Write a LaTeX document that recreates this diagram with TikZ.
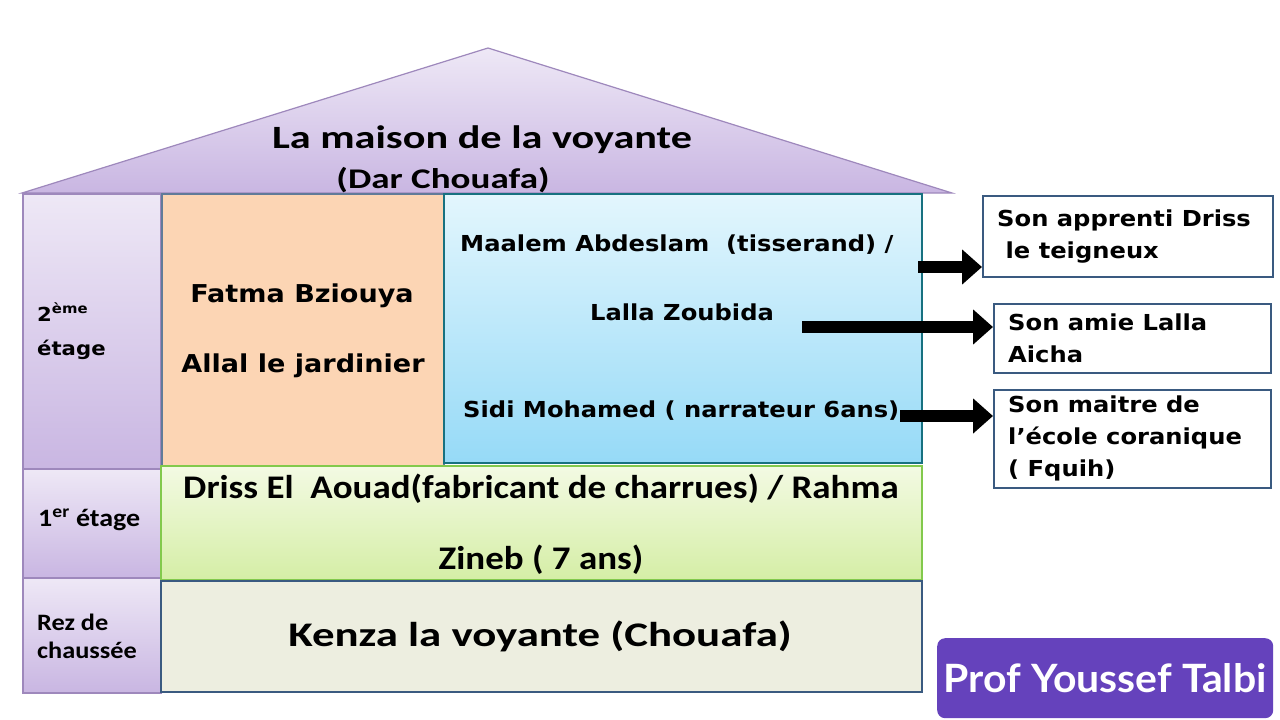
\documentclass[tikz,border=0pt]{standalone}
\usepackage{fontspec}
\setmainfont{Carlito}
\newfontfamily\cb[FakeStretch=1.3]{Carlito}
\newfontfamily\cbn[FakeStretch=1.12]{Carlito}
\newfontfamily\dv[FakeStretch=1.1]{DejaVu Sans}
\newfontfamily\lato[FakeStretch=1.05]{Lato}
\usetikzlibrary{arrows.meta}
\definecolor{lavtop}{HTML}{EEE8F6}
\definecolor{lavbot}{HTML}{C9B6E2}
\definecolor{lavline}{HTML}{9E88BC}
\definecolor{peach}{HTML}{FCD5B4}
\definecolor{bluetop}{HTML}{E3F6FD}
\definecolor{bluebot}{HTML}{96DAF7}
\definecolor{greentop}{HTML}{F3FAE3}
\definecolor{greenbot}{HTML}{D5EEA6}
\definecolor{beige}{HTML}{EDEEE0}
\definecolor{navy}{HTML}{3A5A80}
\definecolor{profpurple}{HTML}{6542BC}
\tikzset{
  lav/.style={draw=lavline, line width=1.5pt, top color=lavtop, bottom color=lavbot},
  room/.style={line width=1.5pt, inner sep=0pt},
  sidebox/.style={draw=navy, line width=2pt, fill=white, inner sep=0pt, anchor=north west},
  bigarrow/.style={line width=12pt, -{Triangle[length=20pt,width=34pt]}},
  dvtxt/.style={font=\dv\bfseries\fontsize{22}{25}\selectfont, inner sep=0pt},
  sidetxt/.style={font=\dv\bfseries\fontsize{22}{32}\selectfont, inner sep=0pt, anchor=west, align=left},
  cbtxt/.style={inner sep=0pt},
}
\begin{document}
\begin{tikzpicture}[x=1pt,y=-1pt]
\useasboundingbox (0,0) rectangle (1280,720);
\fill[white] (0,0) rectangle (1280,720);
% roof
\draw[lav, line width=1.2pt] (22,193) -- (488,48) -- (952,193) -- cycle;
% left column
\node[lav, room, anchor=north west, minimum width=138pt, minimum height=275pt] (lev2) at (22,193) {};
\node[lav, room, anchor=north west, minimum width=138pt, minimum height=109pt] (lev1) at (22,468) {};
\node[lav, room, anchor=north west, minimum width=138pt, minimum height=115pt] (lev0) at (22,577) {};
% rooms
\node[room, draw=navy!80, fill=peach, anchor=north west, minimum width=282pt, minimum height=272pt] (orange) at (161,193) {};
\node[room, draw=teal!60!navy, top color=bluetop, bottom color=bluebot, anchor=north west, minimum width=478pt, minimum height=269pt] (blue) at (443,193) {};
\node[room, draw=green!40!olive!70, top color=greentop, bottom color=greenbot, anchor=north west, minimum width=761pt, minimum height=114pt] (green) at (160,465) {};
\node[room, draw=navy, fill=beige, anchor=north west, minimum width=761pt, minimum height=111pt] (grey) at (160,580) {};
% roof texts
\node[cbtxt, font=\cb\bfseries\fontsize{32.5}{36}\selectfont] (title) at (482,140) {La maison de la voyante};
\node[cbtxt, font=\cb\bfseries\fontsize{28.5}{30}\selectfont] (subtitle) at (443,180) {(Dar Chouafa)};
% level labels
\node[inner sep=0pt, font=\dv\bfseries\fontsize{19.3}{34}\selectfont, anchor=west, align=left] (l2) at (37,331) {2\textsuperscript{ème}\\étage};
\node[cbtxt, font=\cbn\bfseries\fontsize{25}{28}\selectfont, anchor=west] (l1) at (38,520) {1\textsuperscript{er} étage};
\node[cbtxt, font=\cbn\bfseries\fontsize{23.5}{28}\selectfont, anchor=west, align=left] (l0) at (37,636) {Rez de\\chaussée};
% orange room
\node[dvtxt, font=\dv\bfseries\fontsize{24.6}{27}\selectfont] (fatma) at (302,296) {Fatma Bziouya};
\node[dvtxt, font=\dv\bfseries\fontsize{24.6}{27}\selectfont] (allal) at (303,366) {Allal le jardinier};
% blue room
\node[dvtxt, anchor=west] (maalem) at (460,245) {Maalem Abdeslam\ \ (tisserand) /};
\node[dvtxt] (lalla) at (682,312) {Lalla Zoubida};
\node[dvtxt, anchor=west] (sidi) at (463,411) {Sidi Mohamed ( narrateur 6ans)};
% green room
\node[cbtxt, font=\cbn\bfseries\fontsize{33}{34}\selectfont] (driss) at (541,489) {Driss El\ \ Aouad(fabricant de charrues) / Rahma};
\node[cbtxt, font=\cbn\bfseries\fontsize{33}{34}\selectfont] (zineb) at (541,560) {Zineb ( 7 ans)};
% ground
\node[cbtxt, font=\cb\bfseries\fontsize{34.5}{40}\selectfont] (kenza) at (540,636) {Kenza la voyante (Chouafa)};
% side boxes
\node[sidebox, minimum width=290pt, minimum height=81pt] (b1) at (982,195) {};
\node[sidetxt] (b1t) at (997,237) {Son apprenti Driss\\\ le teigneux};
\node[sidebox, minimum width=277pt, minimum height=69pt] (b2) at (993,303) {};
\node[sidetxt] (b2t) at (1008,338) {Son amie Lalla\\Aicha};
\node[sidebox, minimum width=277pt, minimum height=98pt] (b3) at (993,389) {};
\node[sidetxt] (b3t) at (1008,438) {Son maitre de\\l’école coranique\\( Fquih)};
% arrows
\coordinate (a1) at (918,267);
\coordinate (a2) at (802,327);
\coordinate (a3) at (900,416);
\draw[bigarrow] (a1) -- (a1 -| b1.west);
\draw[bigarrow] (a2) -- (a2 -| b2.west);
\draw[bigarrow] (a3) -- (a3 -| b3.west);
% prof badge
\node[fill=profpurple, rounded corners=8pt, minimum width=336pt, minimum height=80pt, anchor=north west, inner sep=0pt] (prof) at (937,638) {};
\node[font=\lato\bfseries\fontsize{39}{40}\selectfont, text=white, inner sep=0pt] (proft) at (prof.center) {Prof Youssef Talbi};
\end{tikzpicture}
\end{document}
